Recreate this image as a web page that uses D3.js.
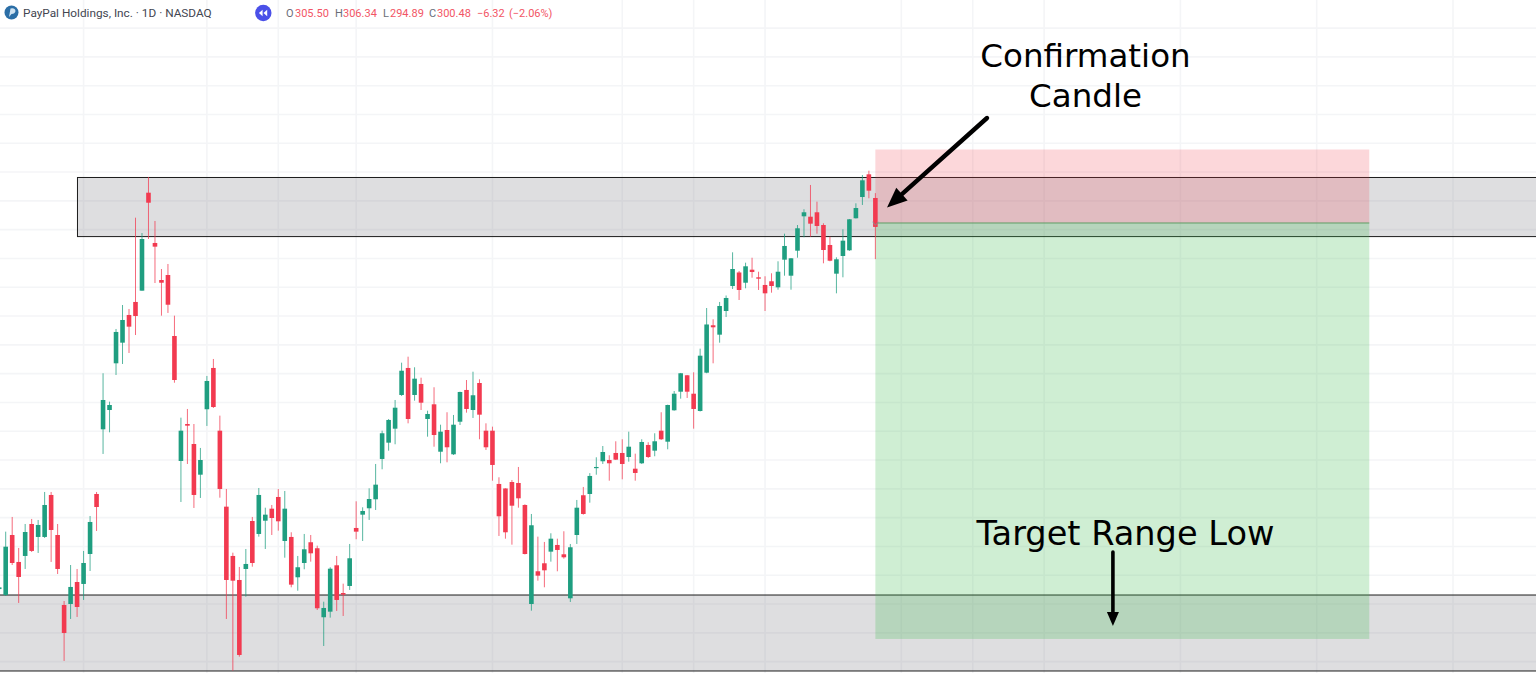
<!DOCTYPE html>
<html>
<head>
<meta charset="utf-8">
<title>PYPL daily</title>
<script src="https://cdn.jsdelivr.net/npm/d3@7/dist/d3.min.js"></script>
<style>
  html, body { margin: 0; padding: 0; background: #fff; overflow: hidden; }
  svg { display: block; }
</style>
</head>
<body>
<svg id="chart" width="1536" height="673"></svg>
<script>
// Daily OHLC, one entry per session; the first session is cut by the left edge.
const firstBar = -1;
const opens = [237.6,
236.58,246.99,242.31,243.35,248.90,246.65,246.65,253.94,246.99,234.84,235.01,238.83,238.49,243.69,254.11,
265.34,268.69,276.80,280.38,285.19,287.45,289.41,306.42,297.69,291.26,292.13,281.54,259.84,266.26,262.79,
257.46,268.82,275.99,265.10,251.91,243.35,239.18,241.09,249.42,247.17,249.47,251.56,253.59,245.95,246.65,
239.65,242.13,245.73,244.69,232.71,233.68,241.73,236.92,238.14,248.21,250.52,251.63,253.19,260.19,263.02,
265.45,271.30,275.99,271.30,273.21,267.13,269.68,261.45,265.22,261.00,266.66,272.17,268.69,273.38,265.10,
265.10,255.85,255.07,256.19,256.02,252.20,235.01,240.69,242.08,244.10,245.26,243.64,236.00,246.99,253.89,
254.11,258.62,259.79,260.01,261.23,261.23,260.53,258.50,259.44,262.62,261.63,265.10,263.19,268.64,271.87,
274.72,271.52,268.52,275.17,283.40,281.77,285.88,290.22,292.57,290.79,293.05,291.73,290.40,291.04,289.99,
294.79,292.01,296.35,302.32,302.25,303.02,300.81,297.34,292.36,295.43,296.42,301.98,305.67,309.61,305.50];
const highs = [238.0,
247.57,250.12,244.74,248.90,249.77,249.60,254.46,254.46,248.90,235.53,241.78,241.09,244.22,250.29,254.46,
275.07,270.14,282.76,286.92,286.23,302.08,299.42,309.15,301.51,293.17,294.04,285.07,267.36,268.87,266.26,
262.10,274.60,277.55,267.71,254.98,243.92,241.44,244.56,250.12,255.15,251.73,252.20,254.98,254.63,247.46,
243.35,247.17,246.99,245.14,235.41,241.39,243.35,238.54,245.43,252.84,251.80,255.10,259.32,265.10,267.13,
270.43,276.91,277.95,276.11,274.30,268.57,272.64,266.14,268.30,267.83,271.87,273.90,275.34,274.02,266.38,
265.80,257.01,255.10,256.54,258.80,252.32,250.64,246.70,245.78,247.29,246.35,247.64,245.43,253.07,255.33,
257.73,260.48,262.44,260.83,263.26,263.61,264.93,261.11,263.61,263.09,264.65,268.30,269.62,271.99,275.12,
274.77,275.24,279.34,286.40,284.44,287.45,288.57,296.07,292.83,294.27,295.13,292.70,291.91,292.43,294.51,
299.30,295.08,300.81,303.54,307.76,304.86,301.11,298.78,295.20,300.07,301.85,304.58,309.49,310.24,306.34];
const lows = [237.5,
236.40,241.78,235.19,241.09,244.04,243.87,246.47,242.31,240.22,225.12,232.41,232.76,235.71,240.74,247.69,
261.06,264.82,274.77,276.68,278.59,281.71,289.41,298.38,290.74,285.07,285.54,273.43,252.72,259.32,251.68,
253.42,265.92,269.04,253.47,232.41,223.43,225.86,236.28,241.49,246.70,244.56,246.99,247.74,243.05,237.91,
237.32,241.04,242.36,233.97,227.72,232.64,233.80,232.93,237.45,246.25,245.95,249.60,251.33,258.40,261.63,
262.74,271.13,266.38,270.31,268.69,264.06,262.32,259.44,259.61,260.88,266.09,268.23,267.31,263.61,261.75,
256.42,246.82,246.35,245.31,251.73,243.61,233.85,239.06,237.91,242.36,240.69,242.88,235.36,245.43,250.52,
252.60,257.46,259.32,256.42,260.01,256.66,259.72,256.42,259.32,260.36,260.66,263.49,261.87,268.57,270.66,
270.78,265.45,268.43,275.07,276.80,280.38,284.84,289.70,287.79,289.82,291.66,289.53,285.88,289.06,289.58,
292.01,289.58,295.13,298.68,298.78,299.30,294.16,294.51,288.95,291.73,296.30,301.94,304.29,305.45,294.89];
const closes = [237.9,
244.96,242.13,239.70,247.51,244.22,248.73,252.20,247.86,241.09,229.98,237.97,234.49,242.13,249.25,251.85,
270.43,269.56,282.24,284.32,283.16,285.01,298.38,304.68,297.05,290.79,286.97,273.90,265.10,265.97,253.94,
260.01,273.73,269.21,254.98,239.18,239.06,226.16,241.96,242.13,253.94,250.52,249.94,249.37,251.56,238.37,
241.39,244.51,243.81,234.27,234.32,241.14,235.71,236.63,242.95,247.57,251.16,253.24,255.73,264.65,266.96,
269.09,275.51,267.13,274.13,269.96,268.00,264.35,264.93,262.22,266.14,271.82,268.87,271.25,267.88,262.22,
259.15,250.24,247.46,252.08,253.36,243.69,248.68,239.93,240.86,246.35,244.39,243.12,244.86,251.73,250.64,
257.24,258.80,261.40,259.44,260.07,259.32,262.32,257.76,263.14,260.53,263.26,263.61,269.56,271.52,275.07,
271.87,268.87,278.12,283.54,283.05,286.75,288.14,293.17,289.53,293.64,292.65,291.49,288.95,290.22,292.70,
297.17,295.03,300.24,303.02,301.04,300.64,296.47,294.61,294.86,298.09,301.80,303.76,308.57,306.77,300.48];

// Session indices that start a new month or year on the time axis.
const timeGridBars = [12, 31, 42, 54, 75, 95, 106, 117, 138, 149, 160, 181, 202, 223];

// Supply and demand zones, plus the short position from the last candle.
const upperZone = [298.8, 309.06];
const lowerZone = [223.38, 236.57];
const upperZoneStartBar = 11.06;
const stopPrice = 313.92;
const entryPrice = 301.16;
const targetPrice = 228.94;
const positionBars = [134, 210.1];

const legend = ["O", "305.50", "H", "306.34", "L", "294.89", "C", "300.48", "−6.32", "(−2.06%)"];
const legendX = [286, 295, 335, 343, 383, 390, 429, 437, 477, 509];

const width = 1536, height = 673;
const upColor = "#1f9e80", downColor = "#f23a50";

const x = d3.scaleLinear().domain([-0.878, 235.79]).range([0, width]);
const y = d3.scaleLinear().domain([339.875, 223.03]).range([0, height]);

const svg = d3.select("#chart");

// Price and time grid
const grid = svg.append("g").attr("stroke", "#f4f5f7").attr("stroke-width", 1.6);
grid.selectAll("line.h").data(y.ticks(24)).join("line")
  .attr("class", "h")
  .attr("x1", 0).attr("x2", width)
  .attr("y1", d => y(d)).attr("y2", d => y(d));
grid.selectAll("line.v").data(timeGridBars).join("line")
  .attr("class", "v")
  .attr("x1", d => x(d)).attr("x2", d => x(d))
  .attr("y1", 0).attr("y2", height);

// Grey zones run off the edges of the pane
const zones = svg.append("g")
  .attr("fill", "#7c7c82").attr("fill-opacity", 0.25)
  .attr("stroke", "#1c1c1c").attr("stroke-width", 1);
zones.append("rect")
  .attr("x", x(upperZoneStartBar)).attr("y", y(upperZone[1]))
  .attr("width", width + 10 - x(upperZoneStartBar))
  .attr("height", y(upperZone[0]) - y(upperZone[1]));
zones.append("rect")
  .attr("x", -10).attr("y", y(lowerZone[1]))
  .attr("width", width + 20)
  .attr("height", y(lowerZone[0]) - y(lowerZone[1]));

// Short position: risk above the entry, reward below it
const posX = x(positionBars[0]), posW = x(positionBars[1]) - posX;
svg.append("rect")
  .attr("x", posX).attr("y", y(stopPrice))
  .attr("width", posW).attr("height", y(entryPrice) - y(stopPrice))
  .attr("fill", "#f23645").attr("fill-opacity", 0.2);
svg.append("rect")
  .attr("x", posX).attr("y", y(entryPrice))
  .attr("width", posW).attr("height", y(targetPrice) - y(entryPrice))
  .attr("fill", "#47be56").attr("fill-opacity", 0.26);
svg.append("line")
  .attr("x1", posX).attr("x2", posX + posW)
  .attr("y1", y(entryPrice)).attr("y2", y(entryPrice))
  .attr("stroke", "#5f9e66").attr("stroke-width", 1);

// Candles
const bars = opens.map((o, i) => ({
  bar: firstBar + i, o, h: highs[i], l: lows[i], c: closes[i], up: closes[i] >= o
}));
const candle = svg.append("g").selectAll("g").data(bars).join("g")
  .attr("fill", d => d.up ? upColor : downColor)
  .attr("stroke", d => d.up ? upColor : downColor);
candle.append("line")
  .attr("x1", d => x(d.bar)).attr("x2", d => x(d.bar))
  .attr("y1", d => y(d.h)).attr("y2", d => y(d.l))
  .attr("stroke-width", 1).attr("stroke-opacity", 0.75);
candle.append("rect")
  .attr("x", d => x(d.bar) - 2.3).attr("width", 4.6)
  .attr("y", d => y(Math.max(d.o, d.c)))
  .attr("height", d => Math.max(1.2, Math.abs(y(d.o) - y(d.c))))
  .attr("stroke", "none");

// Small entry tick under the confirmation candle
const tick = d3.line().x(d => x(d[0])).y(d => y(d[1]));
svg.append("path")
  .attr("d", tick([[133.6, entryPrice + 0.2], [134, entryPrice - 0.4], [134.45, entryPrice + 0.2]]))
  .attr("fill", "none").attr("stroke", "#8d8d8d").attr("stroke-width", 1);

// Annotation arrows
function arrow(bar0, price0, bar1, price1, headLen, headHalf, strokeW) {
  const x0 = x(bar0), y0 = y(price0), x1 = x(bar1), y1 = y(price1);
  const a = Math.atan2(y1 - y0, x1 - x0);
  const bx = x1 - headLen * Math.cos(a), by = y1 - headLen * Math.sin(a);
  const nx = -Math.sin(a) * headHalf, ny = Math.cos(a) * headHalf;
  svg.append("line")
    .attr("x1", x0).attr("y1", y0).attr("x2", bx).attr("y2", by)
    .attr("stroke", "#000").attr("stroke-width", strokeW).attr("stroke-linecap", "round");
  svg.append("polygon")
    .attr("points", [[x1, y1], [bx + nx, by + ny], [bx - nx, by - ny]].join(" "))
    .attr("fill", "#000");
}
arrow(151.2, 319.39, 135.8, 303.85, 20, 8.5, 4.4);
arrow(170.6, 244.04, 170.6, 231.2, 14, 6, 3.6);

// Annotation labels
const noteFont = "'DejaVu Sans', sans-serif";
svg.append("text").attr("x", 1085.5).attr("y", 67).attr("text-anchor", "middle")
  .attr("font-family", noteFont).attr("font-size", 32.5).attr("fill", "#000").text("Confirmation");
svg.append("text").attr("x", 1085.5).attr("y", 106.5).attr("text-anchor", "middle")
  .attr("font-family", noteFont).attr("font-size", 32.5).attr("fill", "#000").text("Candle");
svg.append("text").attr("x", 1125.5).attr("y", 545).attr("text-anchor", "middle")
  .attr("font-family", noteFont).attr("font-size", 33.6).attr("fill", "#000").text("Target Range Low");

// Symbol header
const header = svg.append("g");
header.append("circle").attr("cx", 11.5).attr("cy", 12.5).attr("r", 7).attr("fill", "#2b6ea6");
header.append("path").attr("d", "M9 17 L10.5 8.5 Q15 7.5 15.5 11 Q15 14 11.5 14 Z").attr("fill", "#cfe3f2");
header.append("text").attr("x", 23).attr("y", 17)
  .attr("font-family", "Roboto, sans-serif").attr("font-size", 11.8).attr("fill", "#434651")
  .text("PayPal Holdings, Inc. · 1D · NASDAQ");
header.append("circle").attr("cx", 263.3).attr("cy", 13).attr("r", 8.2).attr("fill", "#4a50e8");
header.append("path").attr("d", "M262.6 9.8 L258.9 13 L262.6 16.2 Z M267.2 9.8 L263.5 13 L267.2 16.2 Z").attr("fill", "#fff");
header.selectAll("text.val").data(legend).join("text")
  .attr("class", "val")
  .attr("x", (d, i) => legendX[i]).attr("y", 17)
  .attr("font-family", "Roboto, sans-serif").attr("font-size", 11)
  .attr("fill", (d, i) => (i < 8 && i % 2 === 0) ? "#6a6d78" : "#f25565")
  .text(d => d);
</script>
</body>
</html>
